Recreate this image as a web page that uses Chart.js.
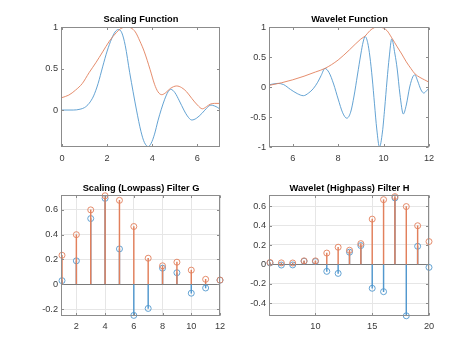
<!DOCTYPE html>
<html><head><meta charset="utf-8">
<script src="https://cdn.jsdelivr.net/npm/chart.js@4/dist/chart.umd.min.js"></script>
<style>
html,body{margin:0;padding:0;background:#fff;}
body{width:474px;height:355px;position:relative;overflow:hidden;}
.cell{position:absolute;}
</style></head><body>
<div class="cell" style="left:0;top:0;width:237px;height:175px"><canvas id="c1"></canvas></div>
<div class="cell" style="left:237px;top:0;width:237px;height:175px"><canvas id="c2"></canvas></div>
<div class="cell" style="left:0;top:175px;width:237px;height:180px"><canvas id="c3"></canvas></div>
<div class="cell" style="left:237px;top:175px;width:237px;height:180px"><canvas id="c4"></canvas></div>
<script>
// ---- Scaling function (blue) and its envelope (red)
const phiX = [0,0.5,0.8,1.0,1.2,1.4,1.6,1.8,2.0,2.2,2.35,2.5,2.65,2.8,3.0,3.15,3.3,3.5,3.65,3.82,3.95,4.1,4.25,4.4,4.55,4.7,4.82,5.0,5.2,5.4,5.55,5.75,5.95,6.2,6.4,6.6,6.75,6.9,7.0];
const phiY = [0,0,0.01,0.03,0.08,0.17,0.32,0.52,0.71,0.86,0.94,0.97,0.93,0.78,0.45,0.22,0.0,-0.26,-0.39,-0.44,-0.40,-0.29,-0.13,0.01,0.13,0.22,0.25,0.21,0.11,0.0,-0.07,-0.12,-0.10,-0.04,0.02,0.06,0.05,0.03,0.01];
const phiEnvX = [0,0.3,0.6,0.9,1.2,1.5,1.8,2.1,2.4,2.6,2.85,3.05,3.25,3.45,3.65,3.9,4.1,4.25,4.42,4.6,4.8,5.08,5.3,5.52,5.75,6.0,6.22,6.4,6.56,6.75,7.0];
const phiEnvY = [0.15,0.18,0.24,0.32,0.45,0.57,0.70,0.83,0.93,0.98,1.0,0.99,0.94,0.83,0.70,0.49,0.31,0.22,0.185,0.21,0.26,0.29,0.27,0.22,0.14,0.06,0.015,0.04,0.07,0.08,0.08];

// ---- Wavelet function (blue) and its envelope (red)
const psiX = [5.0,5.35,5.6,5.9,6.2,6.47,6.7,6.9,7.1,7.25,7.42,7.6,7.8,8.0,8.2,8.38,8.55,8.7,8.85,9.0,9.1,9.19,9.3,9.4,9.5,9.6,9.7,9.82,9.95,10.05,10.15,10.25,10.36,10.5,10.6,10.72,10.87,11.0,11.15,11.3,11.38,11.5,11.65,11.77,11.9,12.0];
const psiY = [0.04,0.06,0.04,-0.04,-0.11,-0.145,-0.10,-0.03,0.08,0.19,0.31,0.24,0.05,-0.2,-0.43,-0.52,-0.42,-0.15,0.2,0.55,0.75,0.84,0.74,0.5,0.15,-0.28,-0.7,-1.0,-0.75,-0.35,0.1,0.5,0.8,0.55,0.3,-0.12,-0.45,-0.3,0.0,0.18,0.2,0.1,-0.05,-0.1,-0.06,-0.02];
const psiEnvX = [5.0,5.5,6.0,6.5,7.0,7.42,8.0,8.5,9.0,9.19,9.4,9.6,9.8,10.0,10.15,10.36,10.6,10.8,11.0,11.2,11.38,11.6,11.8,12.0];
const psiEnvY = [0.03,0.07,0.12,0.18,0.25,0.31,0.45,0.62,0.8,0.85,0.94,0.99,1.0,0.98,0.94,0.82,0.67,0.55,0.42,0.31,0.22,0.16,0.12,0.08];

// ---- Scaling (lowpass) filter G
const gIndex = [1,2,3,4,5,6,7,8,9,10,11,12];
const gCoef  = [0.029,0.189,0.53,0.693,0.285,-0.251,-0.195,0.13,0.093,-0.072,-0.03,0.033];
const gEnv   = [0.234,0.40,0.60,0.714,0.677,0.466,0.21,0.149,0.178,0.114,0.04,0.034];

// ---- Wavelet (highpass) filter H
const hIndex = [6,7,8,9,10,11,12,13,14,15,16,17,18,19,20];
const hCoef  = [0.015,-0.006,-0.005,0.033,0.03,-0.071,-0.092,0.126,0.194,-0.245,-0.28,0.684,-0.528,0.187,-0.03];
const hEnv   = [0.02,0.016,0.015,0.037,0.037,0.117,0.177,0.146,0.214,0.466,0.666,0.697,0.595,0.398,0.235];

// ---- tick labels
const p1XTicks = [0,2,4,6], p1YTicks = [0,0.5,1];
const p2XTicks = [6,8,10,12], p2YTicks = [-1,-0.5,0,0.5,1];
const p3XTicks = [2,4,6,8,10,12], p3YTicks = [-0.2,0,0.2,0.4,0.6];
const p4XTicks = [10,15,20], p4YTicks = [-0.4,-0.2,0,0.2,0.4,0.6];

const BLUE = 'rgb(82,152,206)';
const RED  = 'rgb(226,128,92)';
const AXIS = '#8c8c8c';
const TEXT = '#3a3a3a';
const FONT = "'Liberation Sans', Arial, sans-serif";
Chart.defaults.font.family = FONT;
Chart.defaults.animation = false;

function pts(xs, ys){ return xs.map((x,i)=>({x:x, y:ys[i]})); }

const boxPlugin = {
  id:'matlabBox',
  afterDatasetsDraw(chart){
    const ctx = chart.ctx, a = chart.chartArea, sx = chart.scales.x, sy = chart.scales.y;
    const L = Math.round(a.left)-0.5, R = Math.round(a.right)-0.5, T = Math.round(a.top)+0.5, B = Math.round(a.bottom)-0.5;
    const TL = 2.5;
    ctx.save();
    ctx.strokeStyle = AXIS; ctx.lineWidth = 1;
    ctx.strokeRect(L, T, R-L, B-T);
    ctx.beginPath();
    sx.ticks.forEach(t=>{
      const p = Math.round(sx.getPixelForValue(t.value))+0.5;
      ctx.moveTo(p, B); ctx.lineTo(p, B-TL);
      ctx.moveTo(p, T); ctx.lineTo(p, T+TL);
    });
    sy.ticks.forEach(t=>{
      const p = Math.round(sy.getPixelForValue(t.value))+0.5;
      ctx.moveTo(L, p); ctx.lineTo(L+TL, p);
      ctx.moveTo(R, p); ctx.lineTo(R-TL, p);
    });
    ctx.stroke();
    ctx.restore();
  }
};

function makeScales(cfg){
  const gridColor = ctx => (cfg.grid && ctx.tick && ctx.tick.value === 0 && cfg.zeroLine) ? '#7a7a7a' : '#e6e6e6';
  return {
    x: {
      type:'linear', min:cfg.xmin, max:cfg.xmax, offset:false,
      afterBuildTicks: s => { s.ticks = cfg.xt.map(v=>({value:v})); },
      afterFit: s => { s.height = cfg.H - cfg.area.bottom; },
      grid:{display:true, drawOnChartArea:cfg.grid, drawTicks:false, offset:false, color:'#e6e6e6', lineWidth:1},
      border:{display:false},
      ticks:{padding:cfg.xpad, color:TEXT, font:{size:9.2}, maxRotation:0, autoSkip:false, callback:v=>String(v)}
    },
    y: {
      type:'linear', min:cfg.ymin, max:cfg.ymax,
      afterBuildTicks: s => { s.ticks = cfg.yt.map(v=>({value:v})); },
      afterFit: s => { s.width = cfg.area.left; },
      grid:{display:true, drawOnChartArea:cfg.grid, drawTicks:false, color:gridColor, lineWidth:1},
      border:{display:false},
      ticks:{padding:4, color:TEXT, font:{size:9.2}, autoSkip:false, callback:v=>String(v)}
    }
  };
}

function baseOptions(cfg){
  const fs = 9.3;
  const padTop = cfg.titleCenter - fs/2;
  const padBottom = cfg.area.top - padTop - fs;
  return {
    responsive:true, maintainAspectRatio:false, animation:false,
    layout:{padding:{left:0, top:0, right:cfg.W - cfg.area.right, bottom:0}},
    plugins:{
      legend:{display:false}, tooltip:{enabled:false},
      title:{display:true, text:cfg.title, fullSize:false, color:'#000',
             font:{size:fs, weight:'bold', lineHeight:1}, padding:{top:padTop, bottom:padBottom}}
    },
    scales: makeScales(cfg)
  };
}

function lineChart(id, cfg, blue, red){
  new Chart(document.getElementById(id), {
    type:'line',
    data:{datasets:[
      {data:red, borderColor:RED, borderWidth:0.9, pointRadius:0, cubicInterpolationMode:'monotone', order:0},
      {data:blue, borderColor:BLUE, borderWidth:0.9, pointRadius:0, cubicInterpolationMode:'monotone', order:1}
    ]},
    options: baseOptions(cfg),
    plugins:[boxPlugin]
  });
}

function stemChart(id, cfg, xs, coef, env){
  new Chart(document.getElementById(id), {
    type:'bar',
    data:{datasets:[
      {type:'scatter', data:pts(xs, env), showLine:false, pointStyle:'circle', pointRadius:3, pointBorderWidth:0.9,
       borderColor:RED, pointBorderColor:RED, backgroundColor:'rgba(0,0,0,0)', pointBackgroundColor:'rgba(0,0,0,0)', clip:false, order:1},
      {type:'bar', data:pts(xs, env), backgroundColor:RED, barThickness:0.8, grouped:false, borderWidth:0, order:2},
      {type:'scatter', data:pts(xs, coef), showLine:false, pointStyle:'circle', pointRadius:3, pointBorderWidth:0.9,
       borderColor:BLUE, pointBorderColor:BLUE, backgroundColor:'rgba(0,0,0,0)', pointBackgroundColor:'rgba(0,0,0,0)', clip:false, order:3},
      {type:'bar', data:pts(xs, coef), backgroundColor:BLUE, barThickness:0.8, grouped:false, borderWidth:0, order:4}
    ]},
    options: baseOptions(cfg),
    plugins:[boxPlugin]
  });
}

lineChart('c1', {W:237, H:175, area:{left:62, top:27, right:220, bottom:147}, titleCenter:19.7, title:'Scaling Function',
  xmin:0, xmax:7, ymin:-0.445, ymax:1, xt:p1XTicks, yt:p1YTicks, grid:false, xpad:6},
  pts(phiX, phiY), pts(phiEnvX, phiEnvY));

lineChart('c2', {W:237, H:175, area:{left:33, top:27, right:192, bottom:147}, titleCenter:19.7, title:'Wavelet Function',
  xmin:5, xmax:12, ymin:-1, ymax:1, xt:p2XTicks, yt:p2YTicks, grid:false, xpad:6},
  pts(psiX, psiY), pts(psiEnvX, psiEnvY));

stemChart('c3', {W:237, H:180, area:{left:62, top:20, right:220, bottom:141}, titleCenter:13, title:'Scaling (Lowpass) Filter G',
  xmin:1, xmax:12, ymin:-0.256, ymax:0.72, xt:p3XTicks, yt:p3YTicks, grid:true, zeroLine:true, xpad:5},
  gIndex, gCoef, gEnv);

stemChart('c4', {W:237, H:180, area:{left:33, top:20, right:192, bottom:141}, titleCenter:13, title:'Wavelet (Highpass) Filter H',
  xmin:6, xmax:20, ymin:-0.53, ymax:0.714, xt:p4XTicks, yt:p4YTicks, grid:true, zeroLine:true, xpad:5},
  hIndex, hCoef, hEnv);
</script>
</body></html>
